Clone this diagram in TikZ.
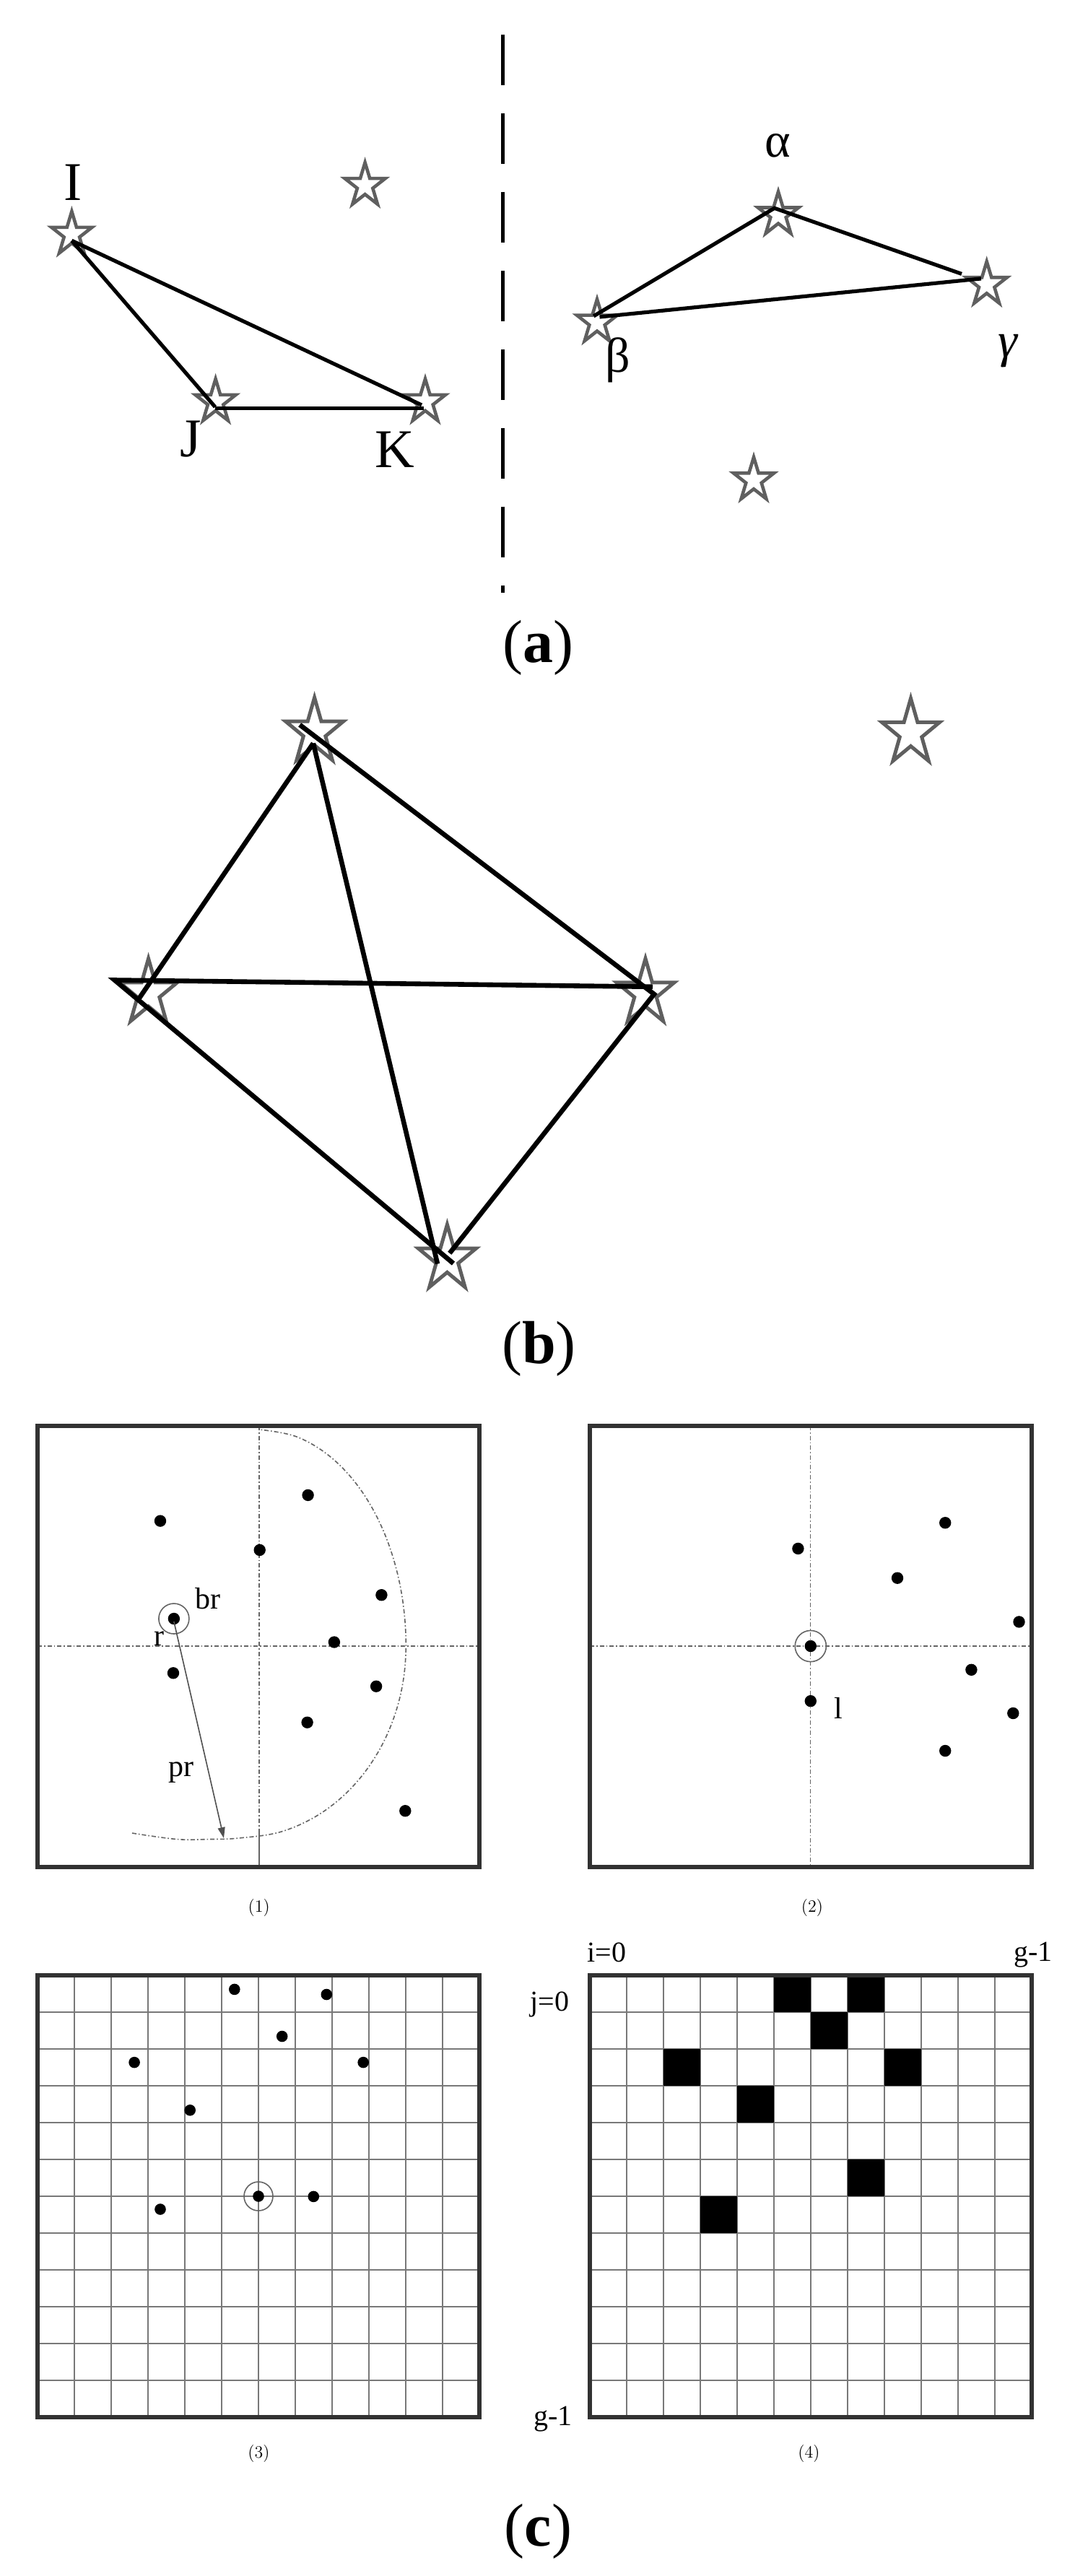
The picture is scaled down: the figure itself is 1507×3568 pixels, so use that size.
\documentclass[tikz,border=0pt]{standalone}
\usepackage{fontspec}
\newfontfamily\tnr{Liberation Serif}
\usetikzlibrary{shapes.geometric,arrows.meta,calc}
\definecolor{stargray}{RGB}{95,95,95}
\definecolor{boxgray}{RGB}{50,50,50}
\definecolor{gridgray}{RGB}{120,120,120}
\definecolor{axisgray}{RGB}{100,100,100}
\definecolor{arrowgray}{RGB}{80,80,80}
\begin{document}
\begin{tikzpicture}[x=0.5pt,y=-0.5pt,
  starbase/.style={star,star points=5,star point ratio=2.618,draw=stargray,fill=white,inner sep=0pt,outer sep=0pt,line join=miter},
  starA/.style={starbase,minimum size=29.5pt,line width=2.3pt,yscale=1.08},
  starB/.style={starbase,minimum size=42pt,line width=2.5pt,yscale=1.14},
  edgeA/.style={draw=black,line width=2.6pt},
  edgeB/.style={draw=black,line width=3.3pt,line join=miter},
  lblA/.style={font=\tnr\fontsize{37.8}{40}\selectfont,inner sep=0pt,anchor=base},
  lblG/.style={font=\tnr\fontsize{34}{36}\selectfont,inner sep=0pt,anchor=base},
  capt/.style={font=\tnr\fontsize{42}{46}\selectfont,inner sep=0pt,anchor=base},
  frame/.style={draw=boxgray,line width=2.6pt},
  gline/.style={draw=gridgray,line width=1.2pt},
  axis/.style={draw=axisgray,line width=0.8pt,dash pattern=on 3pt off 1.5pt on 0.8pt off 1.5pt},
  ring/.style={draw=axisgray,line width=0.8pt},
  lblC/.style={font=\tnr\fontsize{21}{24}\selectfont,inner sep=0pt,anchor=base west},
  lblD/.style={font=\tnr\fontsize{20}{23}\selectfont,inner sep=0pt,anchor=base west},
  subl/.style={font=\fontsize{12}{14}\selectfont,inner sep=0pt}
]
\useasboundingbox (0,0) rectangle (1507,3568);
\fill[white] (0,0) rectangle (1507,3568);

% ---------------- (a) ----------------
\draw[line width=2.5pt,dash pattern=on 35pt off 19.5pt] (696.6,47.7) -- (696.6,821);

\node[starA] (sI)  at (99.4,324.7) {};
\node[starA] (sX1) at (505.6,257) {};
\node[starA] (sJ)  at (298.6,556.7) {};
\node[starA] (sK)  at (589,556.7) {};
\node[starA] (sAl) at (1078,297.4) {};
\node[starA] (sBe) at (827,446.4) {};
\node[starA] (sGa) at (1366.7,394.1) {};
\node[starA] (sX2) at (1044,665.1) {};

\draw[edgeA] ($(sI)+(0,8.6)$) -- ($(sJ)+(-0.6,7)$);
\draw[edgeA] ($(sI)+(0,8.6)$) -- ($(sK)+(-5,4.3)$);
\draw[edgeA] ($(sJ)+(-0.6,8.6)$) -- ($(sK)+(-2,8.6)$);
\draw[edgeA] ($(sBe)+(-4.8,-8.5)$) -- ($(sAl)+(-5.3,-9.1)$) -- ($(sGa)+(-34.7,-14.7)$);
\draw[edgeA] ($(sBe)+(3.5,-7.4)$) -- ($(sGa)+(-7.8,-8.2)$);

\node[lblA] (lI) at (100.8,277.5) {I};
\node[lblA] (lJ) at (264,632.6) {J};
\node[lblA] (lK) at (546.8,647.7) {K};
\node[lblG] (lAl) at (1077.6,218) {α};
\node[lblG] (lBe) at (856,516) {β};
\node[lblG] (lGa) at (1395.6,494.5) {\itshape γ};

\node[capt] (capa) at (745.5,917) {(\textbf{a})};

% ---------------- (b) ----------------
\node[starB] (bT) at (435.6,1014) {};
\node[starB] (bL) at (205.6,1375.6) {};
\node[starB] (bR) at (894,1375.6) {};
\node[starB] (bB) at (619.4,1744) {};
\node[starB] (bX) at (1261.5,1015.2) {};

\coordinate (p1) at ($(bT)+(-20.4,-10.1)$);
\coordinate (p2) at ($(bR)+(12,1.4)$);
\coordinate (p3) at ($(bB)+(3.4,-8.2)$);
\coordinate (p4) at ($(bT)+(-1.7,15.5)$);
\coordinate (p5) at ($(bL)+(-14.8,10)$);
\coordinate (p6) at ($(bB)+(-13.4,6.5)$);
\coordinate (p7) at ($(bR)+(10,-8.8)$);
\coordinate (p8) at ($(bL)+(-46.9,-18.1)$);
\coordinate (p9) at ($(bB)+(8.6,6)$);

\draw[edgeB] (p1) -- (p2) -- (p3);
\draw[edgeB] (p4) -- (p5);
\draw[edgeB] (p4) -- (p6);
\draw[edgeB] (p7) -- (p8) -- (p9);

\node[capt] (capb) at (746.6,1888) {(\textbf{b})};

% ---------------- (c) panel 1 ----------------
\draw[axis] (52,2280) -- (664,2280);
\draw[axis] (358.7,1975) -- (358.7,2539);
\draw[draw=axisgray,line width=0.8pt] (358.7,2539) -- (358.7,2586);
\draw[axis] plot[smooth,tension=0.6] coordinates {(183,2539) (245,2547.5) (290,2547.5) (330,2546) (390.1,2536.9) (446.2,2510.4) (494.3,2468.1) (531.2,2413) (554.4,2348.8) (562.3,2280) (555.4,2202.4) (535,2130) (502.7,2067.9) (460.5,2020.2) (411.4,1990.2) (358.7,1980)};
\foreach \p in {(426.6,2070.9),(222,2106.6),(359.7,2146.9),(528.4,2209.2),(462.9,2274.5),(240,2317.3),(521.1,2335.7),(425.6,2385.7),(561.3,2508.2)}
  \fill \p circle[radius=4.1pt];
\coordinate (c1) at (240.9,2242);
\fill (c1) circle[radius=4.1pt];
\draw[ring] (c1) circle[radius=10.5pt];
\coordinate (c1tip) at (310,2546);
\draw[draw=arrowgray,line width=0.8pt,-{Triangle[length=7.5pt,width=5pt]}] ($(c1)+(0,4)$) -- (c1tip);
\draw[frame] (52,1975) rectangle (664,2586);
\node[lblC] (lbr) at (270,2228) {br};
\node[lblC] (lr) at (213,2279) {r};
\node[lblC] (lpr) at (233,2460) {pr};
\node[subl] (s1) at (358.7,2642) {(1)};

% ---------------- (c) panel 2 ----------------
\draw[axis] (817,2280) -- (1429,2280);
\draw[axis] (1122.5,1975) -- (1122.5,2586);
\foreach \p in {(1309.2,2109.2),(1105.4,2144.9),(1243,2185.7),(1411.5,2246.4),(1345.4,2312.8),(1122.8,2356.1),(1403.3,2373),(1309.2,2425)}
  \fill \p circle[radius=4.1pt];
\coordinate (c2) at (1122.8,2280);
\fill (c2) circle[radius=4.1pt];
\draw[ring] (c2) circle[radius=10.8pt];
\draw[frame] (817,1975) rectangle (1429,2586);
\node[lblC] (ll) at (1155,2380) {l};
\node[subl] (s2) at (1125,2642) {(2)};

% ---------------- (c) panel 3 ----------------
\foreach \i in {1,...,11} {
  \draw[gline] ({52+51*\i},2736) -- ({52+51*\i},3348);
  \draw[gline] (52,{2736+51*\i}) -- (664,{2736+51*\i});
}
\foreach \p in {(324.8,2755.4),(452.3,2762.5),(390.7,2820.5),(186.1,2856.6),(503.2,2856.6),(263.2,2922.8),(434.3,3042.4),(222,3060)}
  \fill \p circle[radius=3.9pt];
\coordinate (c3) at (358,3042);
\fill (c3) circle[radius=3.9pt];
\draw[ring] (c3) circle[radius=10pt];
\draw[frame] (52,2736) rectangle (664,3348);
\node[subl] (s3) at (358.5,3398) {(3)};

% ---------------- (c) panel 4 ----------------
\foreach \i in {1,...,11} {
  \draw[gline] ({817+51*\i},2736) -- ({817+51*\i},3348);
  \draw[gline] (817,{2736+51*\i}) -- (1429,{2736+51*\i});
}
\foreach \c/\r in {5/0,7/0,6/1,2/2,8/2,4/3,7/5,3/6}
  \fill ({817+51*\c},{2736+51*\r}) rectangle ++(51,51);
\draw[frame] (817,2736) rectangle (1429,3348);
\node[lblD] (li0) at (813,2717) {i=0};
\node[lblD] (lg1a) at (1404,2716) {g-1};
\node[lblD] (lj0) at (734,2785) {j=0};
\node[lblD] (lg1b) at (739,3359) {g-1};
\node[subl] (s4) at (1120.5,3398) {(4)};

\node[capt] (capc) at (745.5,3526) {(\textbf{c})};
\end{tikzpicture}
\end{document}
